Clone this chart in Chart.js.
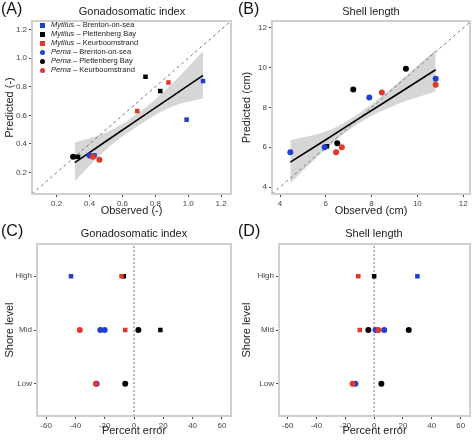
<!DOCTYPE html>
<html><head><meta charset="utf-8">
<script src="https://cdn.jsdelivr.net/npm/chart.js@4"></script>
<style>
body{margin:0;width:474px;height:440px;background:#fff;font-family:"Liberation Sans",Arial,sans-serif;position:relative;overflow:hidden}
.c{position:absolute;width:237px;height:220px}
.lab{position:absolute;font-size:16px;color:#111}
.tt{position:absolute;font-size:11px;color:#222;text-align:center;width:200px}
#leg{position:absolute;left:36px;top:21px;font-size:7.5px;color:#222;line-height:8.9px}
#leg div{position:relative;padding-left:15px}
#leg span.m{position:absolute;left:4px;top:2px;width:5px;height:5px}
</style></head><body>
<div class="c" style="left:0;top:0"><canvas id="a"></canvas></div>
<div class="c" style="left:237px;top:0"><canvas id="b"></canvas></div>
<div class="c" style="left:0;top:220px"><canvas id="c"></canvas></div>
<div class="c" style="left:237px;top:220px"><canvas id="d"></canvas></div>
<div class="lab" style="left:1px;top:0">(A)</div>
<div class="lab" style="left:238px;top:0">(B)</div>
<div class="lab" style="left:1px;top:222px">(C)</div>
<div class="lab" style="left:238px;top:222px">(D)</div>
<div class="tt" style="left:32px;top:5px">Gonadosomatic index</div>
<div class="tt" style="left:271px;top:5px">Shell length</div>
<div class="tt" style="left:34px;top:227px">Gonadosomatic index</div>
<div class="tt" style="left:274px;top:227px">Shell length</div>
<div id="leg"></div>
<script>
const BLUE='#1f3fd0', BLACK='#000', RED='#e0392b';
const groupNames=['Mytilus|Brenton-on-sea','Mytilus|Plettenberg Bay','Mytilus|Keurboomstrand','Perna|Brenton-on-sea','Perna|Plettenberg Bay','Perna|Keurboomstrand'];
const groupColors=[BLUE,BLACK,RED,BLUE,BLACK,RED];
const groupShapes=['rect','rect','rect','circle','circle','circle'];
// Panel A: [observed, predicted]
const gsiA=[[[1.09,0.84],[0.99,0.57],[0.43,0.32]],[[0.74,0.87],[0.83,0.77],[0.33,0.31]],[[0.88,0.83],[0.69,0.63]],[[0.40,0.32]],[[0.30,0.31]],[[0.46,0.29],[0.42,0.31]]];
const gsiFitX=[0.31,0.5,0.7,0.9,1.09];
const gsiFit=[0.27,0.419,0.575,0.731,0.88];
const gsiUpper=[0.41,0.48,0.62,0.82,1.05];
const gsiLower=[0.14,0.36,0.53,0.66,0.72];
// Panel B
const slB=[[],[[6.05,6.05]],[],[[4.45,5.75],[5.95,6.0],[7.9,8.5],[10.8,9.45]],[[6.5,6.2],[7.2,8.9],[9.5,9.95]],[[6.45,5.75],[6.7,6.0],[8.45,8.75],[10.8,9.15]]];
const slFitX=[4.45,6,7.3,9,10.8];
const slFit=[5.25,6.38,7.34,8.58,9.9];
const slUpper=[6.35,6.8,7.6,9.1,10.9];
const slLower=[4.2,5.9,7.1,8.1,8.8];
// Panels C/D: [percent error, shore level index 1=Low 2=Mid 3=High]
const shoreLevels=['Low','Mid','High'];
const errC=[[[-43,3]],[[-7,3],[18,2]],[[-8.5,3],[-6,2]],[[-23,2],[-20,2],[-25.5,1]],[[3,2],[-6,1]],[[-37,2],[-26,1]]];
const errD=[[[30,3]],[[0,3]],[[-11,3],[-10,2]],[[1,2],[7,2],[-13,1]],[[-4,2],[24,2],[5,1]],[[3,2],[-15,1]]];

const leg=document.getElementById('leg');
groupNames.forEach((n,i)=>{const [g,s]=n.split('|');const d=document.createElement('div');
d.innerHTML='<span class="m" style="background:'+groupColors[i]+';border-radius:'+(groupShapes[i]=='circle'?'50%':'0')+'"></span><i>'+g+'</i> – '+s;leg.appendChild(d);});

const frame={id:'frame',afterDraw(ch){const a=ch.chartArea,c=ch.ctx;c.save();c.strokeStyle='#cfcfcf';c.lineWidth=2;c.strokeRect(a.left,a.top,a.right-a.left,a.bottom-a.top);c.restore();}};
function pts(arr){return arr.map(p=>({x:p[0],y:p[1]}));}
function scatterSets(groups){return groups.map((g,i)=>({type:'scatter',data:pts(g),backgroundColor:groupColors[i],borderColor:groupColors[i],pointStyle:groupShapes[i],pointRadius:groupShapes[i]=='rect'?3.2:3,borderWidth:0,order:10-i}));}
function axis(min,max,step,title,fit,cb){return {type:'linear',min,max,afterBuildTicks(s){const t=[];for(let v=Math.ceil(min/step)*step;v<=max+1e-9;v+=step)t.push({value:+v.toFixed(6)});s.ticks=t;},
 ticks:{color:'#444',font:{size:8},padding:2,callback:cb||(v=>v)},grid:{drawOnChartArea:false,tickLength:3,color:'#444'},border:{display:false},
 title:{display:true,text:title,color:'#222',font:{size:11},padding:{top:3,bottom:2}},afterFit(s){if(fit.w)s.width=fit.w;if(fit.h)s.height=fit.h;}};}
function make(id,sets,xa,ya,pad){new Chart(document.getElementById(id),{type:'scatter',data:{datasets:sets},
 options:{responsive:false,animation:false,devicePixelRatio:1,layout:{padding:pad},plugins:{legend:{display:false},tooltip:{enabled:false}},scales:{x:xa,y:ya}},plugins:[frame]});}
['a','b','c','d'].forEach(id=>{const e=document.getElementById(id);e.width=237;e.height=220;});
function bandSets(xs,fit,up,lo,mn,mx){return [
 {type:'line',data:xs.map((x,i)=>({x,y:up[i]})),borderWidth:0,pointRadius:0,fill:false,tension:0.4,order:23},
 {type:'line',data:xs.map((x,i)=>({x,y:lo[i]})),borderWidth:0,pointRadius:0,fill:'-1',backgroundColor:'rgba(200,200,200,0.75)',tension:0.4,order:23},
 {type:'line',data:xs.map((x,i)=>({x,y:fit[i]})),borderColor:'#000',borderWidth:1.6,pointRadius:0,order:21},
 {type:'line',data:[{x:mn,y:mn},{x:mx,y:mx}],borderColor:'#777',borderWidth:1,borderDash:[3,3],pointRadius:0,order:22}];}
make('a',[...bandSets(gsiFitX,gsiFit,gsiUpper,gsiLower,0.05,1.26),...scatterSets(gsiA)],
 axis(0.05,1.26,0.2,'Observed (-)',{h:26},v=>v.toFixed(1)),axis(0.05,1.26,0.2,'Predicted (-)',{w:32},v=>v.toFixed(1)),{top:21,right:6});
make('b',[...bandSets(slFitX,slFit,slUpper,slLower,3.65,12.35),...scatterSets(slB)],
 axis(3.65,12.3,2,'Observed (cm)',{h:26}),axis(3.65,12.35,2,'Predicted (cm)',{w:35}),{top:21,right:3});
function vline(){return {type:'line',data:[{x:0,y:0.4},{x:0,y:3.6}],borderColor:'#777',borderWidth:1,borderDash:[2,2],pointRadius:0,order:22};}
const ycat=v=>shoreLevels[v-1]||'';
make('c',[vline(),...scatterSets(errC)],axis(-66.2,66.2,20,'Percent error',{h:24}),axis(0.4,3.6,1,'Shore level',{w:37},ycat),{top:24,right:6});
make('d',[vline(),...scatterSets(errD)],axis(-66,66.5,20,'Percent error',{h:24}),axis(0.4,3.6,1,'Shore level',{w:42},ycat),{top:24,right:4});
</script></body></html>
